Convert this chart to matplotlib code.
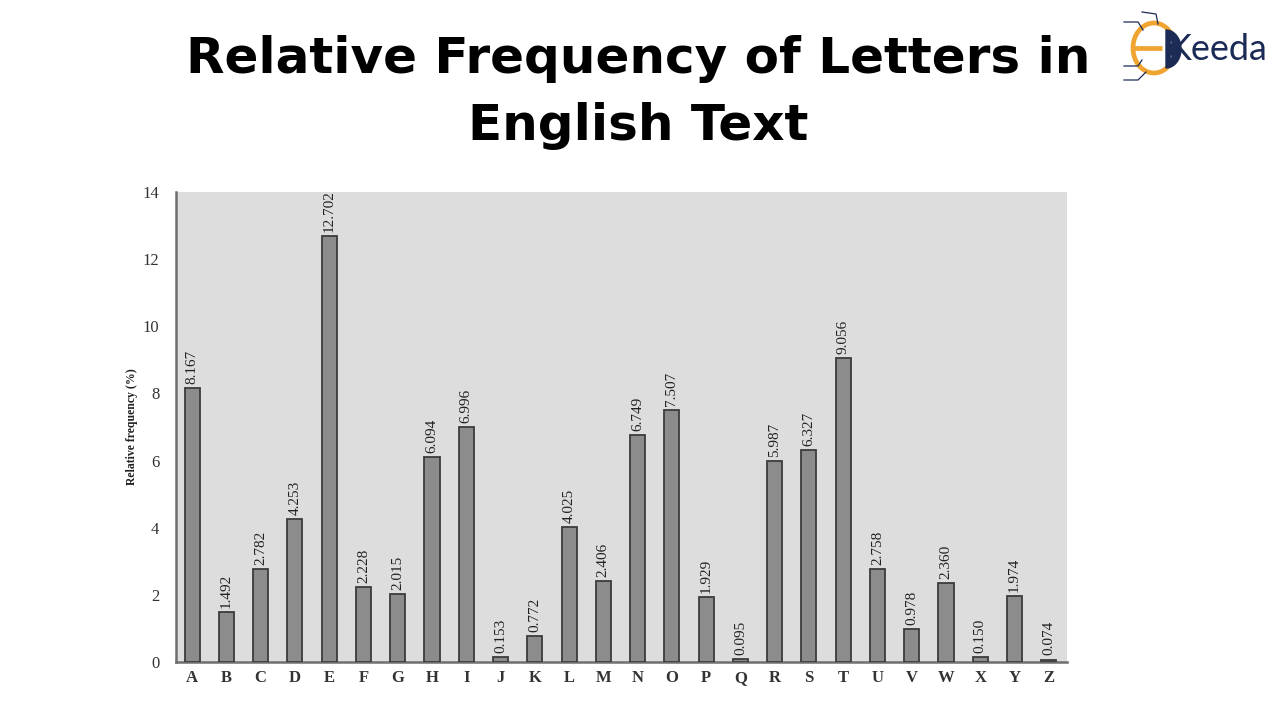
import numpy as np
import matplotlib
matplotlib.use("Agg")
import matplotlib.pyplot as plt
from matplotlib import patches

letters = list("ABCDEFGHIJKLMNOPQRSTUVWXYZ")
freqs = [8.167, 1.492, 2.782, 4.253, 12.702, 2.228, 2.015, 6.094, 6.996, 0.153,
         0.772, 4.025, 2.406, 6.749, 7.507, 1.929, 0.095, 5.987, 6.327, 9.056,
         2.758, 0.978, 2.360, 0.150, 1.974, 0.074]
value_labels = ["8.167", "1.492", "2.782", "4.253", "12.702", "2.228", "2.015", "6.094",
                "6.996", "0.153", "0.772", "4.025", "2.406", "6.749", "7.507", "1.929",
                "0.095", "5.987", "6.327", "9.056", "2.758", "0.978", "2.360", "0.150",
                "1.974", "0.074"]
yticks = [0, 2, 4, 6, 8, 10, 12, 14]

title_line1 = "Relative Frequency of Letters in"
title_line2 = "English Text"
ylabel = "Relative frequency (%)"

W, H = 1280, 720
fig = plt.figure(figsize=(12.8, 7.2), dpi=100)
fig.patch.set_facecolor("white")

ax = fig.add_axes([176 / W, (H - 662) / H, (1067 - 176) / W, (662 - 192) / H])
ax.set_facecolor("#dddddd")
x = np.arange(len(letters))
ax.bar(x, freqs, width=0.44, color="#8c8c8c", edgecolor="#3c3c3c", linewidth=1.3, zorder=3)
for xi, v, lab in zip(x, freqs, value_labels):
    ax.text(xi, v + 0.12, lab, rotation=90, ha="center", va="bottom",
            fontsize=11, family="Liberation Serif", color="#222222", zorder=4)

ax.set_xlim(-0.47, 25.53)
ax.set_ylim(0, 14)
ax.set_xticks(x)
ax.set_xticklabels(letters, family="Liberation Serif", fontsize=12, fontweight="bold", color="#333333")
ax.set_yticks(yticks)
ax.set_yticklabels([str(t) for t in yticks], family="Liberation Serif", fontsize=12, color="#333333")
ax.tick_params(axis="both", length=0, pad=6)
ax.tick_params(axis="y", pad=12)
for s in ["top", "right"]:
    ax.spines[s].set_visible(False)
for s in ["left", "bottom"]:
    ax.spines[s].set_color("#6e6e6e")
    ax.spines[s].set_linewidth(1.8)
ax.set_ylabel(ylabel, family="Liberation Serif", fontweight="bold", fontsize=8.5, color="#222222", labelpad=3)

fig.text(638 / W, 1 - 73 / H, title_line1, ha="center", va="baseline", family="DejaVu Sans",
         fontweight="bold", fontsize=36, color="black")
fig.text(638 / W, 1 - 140 / H, title_line2, ha="center", va="baseline", family="DejaVu Sans",
         fontweight="bold", fontsize=36, color="black")

# logo
lax = fig.add_axes([1115 / W, (H - 92) / H, 165 / W, 85 / H])
lax.set_xlim(1115, 1280)
lax.set_ylim(92, 7)
lax.axis("off")
navy = "#1b2b55"
orange = "#f0a531"
for pts in [[(1124, 22), (1138, 22), (1143, 30)], [(1142, 12), (1156, 14), (1158, 24)],
            [(1124, 66), (1138, 66), (1142, 60)], [(1124, 80), (1138, 80), (1146, 72)]]:
    xs, ys = zip(*pts)
    lax.plot(xs, ys, color=navy, lw=0.9)
lax.add_patch(patches.Arc((1154, 48), 42, 50, theta1=40, theta2=320, color=orange, lw=3.4))
lax.plot([1134, 1162], [48, 48], color=orange, lw=3.4, solid_capstyle="butt")
t = np.linspace(-np.pi / 2, np.pi / 2, 50)
dx = 1166 + 15 * np.cos(t)
dy = 49 + 19 * np.sin(t)
lax.add_patch(patches.Polygon(np.column_stack([dx, dy]), closed=True, color=navy))
lax.plot([1172, 1172], [42, 56], "o", color="white", ms=1.5)
lax.text(1168, 50, "Keeda", fontsize=26, family="Lato", color=navy, ha="left", va="center")

fig.savefig("out.png", dpi=100)
